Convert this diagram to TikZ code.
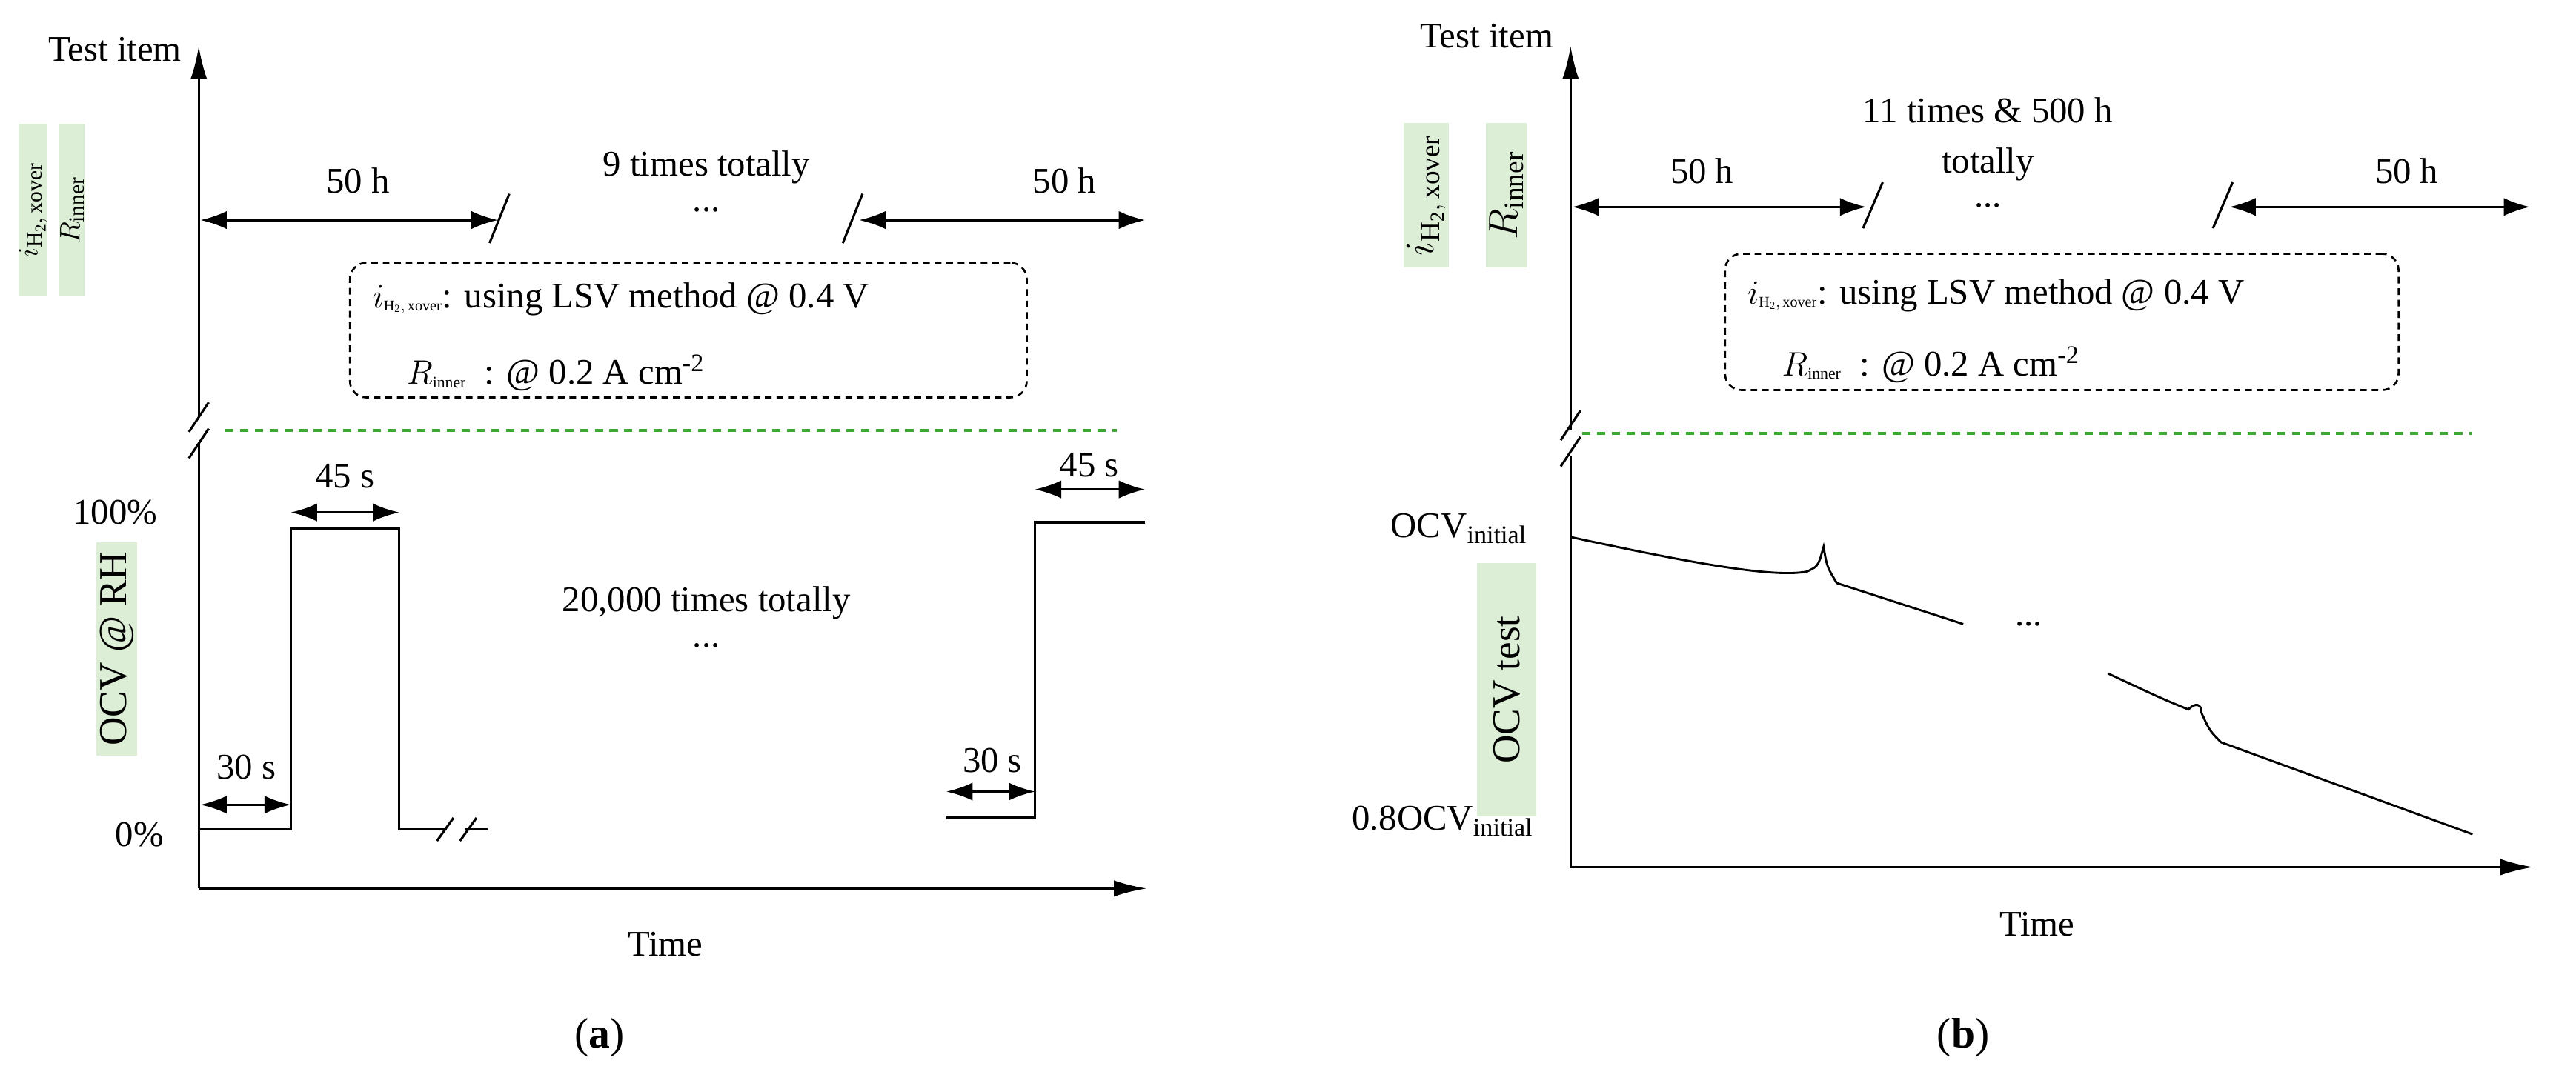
\documentclass[tikz,border=0pt]{standalone}
\usepackage{fontspec}
\setmainfont{Liberation Serif}
\usetikzlibrary{arrows.meta}
\definecolor{gbox}{RGB}{220,238,214}
\definecolor{gdash}{RGB}{60,170,50}
\begin{document}
\begin{tikzpicture}[x=1pt,y=-1pt,line width=1.4pt,
  txt/.style={font=\fontsize{22}{26}\selectfont,inner sep=1pt},
  gtxt/.style={txt,font=\fontsize{24}{26}\selectfont,fill=gbox,rotate=90,inner sep=2pt},
  axis/.style={-{Latex[length=20pt,width=10pt]}},
  dim/.style={{Latex[length=16pt,width=11pt]}-{Latex[length=16pt,width=11pt]}},
  gl/.style={gdash,dash pattern=on 5pt off 4pt,line width=1.6pt},
  box/.style={draw,dash pattern=on 4pt off 3pt,rounded corners=10pt,line width=1.2pt}]
\useasboundingbox (0,0) rectangle (1568,663);
% ===== panel a =====
\coordinate (aO) at (121,541);
\coordinate (aT) at (121,28);
\coordinate (aX) at (698,541);
\draw (aO) -- (121,270);
\draw[axis] (121,254) -- (aT);
\draw (115,279) -- (127,261); \draw (115,263) -- (127,245);
\draw[axis] (aO) -- (aX);
\node[txt] (ta) at (70,30) {Test item};
\node[gtxt,font=\fontsize{19}{20}\selectfont,inner sep=0.5pt,minimum width=105pt] (ia) at (20,128) {$i_{\mathrm{H_2,\,xover}}$};
\node[gtxt,font=\fontsize{19}{20}\selectfont,inner sep=0.5pt,minimum width=105pt] (ra) at (44,128) {$R_{\mathrm{inner}}$};
\coordinate (a1) at (122,134); \coordinate (a2) at (303,134);
\draw[dim] (a1) -- (a2); \draw (298,148) -- (310,118);
\node[txt] at (218,110) {50 h};
\node[txt] at (430,102) {9 times totally};
\node[txt] at (430,128) {...};
\coordinate (a3) at (523,134); \coordinate (a4) at (697,134);
\draw[dim] (a3) -- (a4); \draw (513,148) -- (525,118);
\node[txt] at (648,110) {50 h};
\node[box,minimum width=412pt,minimum height=82pt] (da) at (419,201) {};
\node[txt,anchor=west] at (225,182) {$i$\fontsize{13}{14}\selectfont$_{\mathrm{H_2,\,xover}}$\fontsize{22}{26}\selectfont: using LSV method @ 0.4 V};
\node[txt,anchor=west] at (246,227) {$R$\fontsize{14}{14}\selectfont$_{\mathrm{inner}}$\fontsize{22}{26}\selectfont\ \ : @ 0.2 A cm\textsuperscript{-2}};
\draw[gl] (137,262) -- (680,262);
\draw (121,505) -- (177,505) -- (177,322) -- (243,322) -- (243,505) -- (272,505);
\draw (266,512) -- (276,498); \draw (280,512) -- (290,498); \draw (283,505) -- (297,505);
\draw (576,498) -- (630,498) -- (630,318) -- (697,318);
\coordinate (s1) at (122,490); \coordinate (s2) at (177,490);
\draw[dim] (s1) -- (s2); \node[txt] at (150,467) {30 s};
\coordinate (s3) at (177,312); \coordinate (s4) at (243,312);
\draw[dim] (s3) -- (s4); \node[txt] at (210,290) {45 s};
\coordinate (s5) at (576,482); \coordinate (s6) at (630,482);
\draw[dim] (s5) -- (s6); \node[txt] at (604,463) {30 s};
\coordinate (s7) at (630,298); \coordinate (s8) at (697,298);
\draw[dim] (s7) -- (s8); \node[txt] at (663,283) {45 s};
\node[txt] at (70,312) {100\%};
\node[txt] at (85,508) {0\%};
\node[gtxt,minimum width=130pt,minimum height=24pt] at (71,395) {OCV @ RH};
\node[txt] at (430,367) {20,000 times totally};
\node[txt] at (430,393) {...};
\node[txt] at (405,575) {Time};
\node[txt,font=\fontsize{26}{30}\selectfont] at (365,632) {(\textbf{a})};
% ===== panel b =====
\coordinate (bO) at (956,528);
\coordinate (bT) at (956,28);
\coordinate (bX) at (1542,528);
\draw (bO) -- (956,278);
\draw[axis] (956,262) -- (bT);
\draw (950,284) -- (962,266); \draw (950,268) -- (962,250);
\draw[axis] (bO) -- (bX);
\node[txt] (tb) at (905,22) {Test item};
\node[gtxt,minimum width=88pt,minimum height=22pt] at (868,119) {$i_{\mathrm{H_2,\,xover}}$};
\node[gtxt,minimum width=88pt,minimum height=22pt] at (917,119) {$R_{\mathrm{inner}}$};
\node[txt] at (1210,67) {11 times \& 500 h};
\node[txt] at (1210,100) {totally};
\node[txt] at (1210,125) {...};
\coordinate (b1) at (957,126); \coordinate (b2) at (1136,126);
\draw[dim] (b1) -- (b2); \draw (1134,139) -- (1146,111);
\node[txt] at (1036,104) {50 h};
\coordinate (b3) at (1357,126); \coordinate (b4) at (1540,126);
\draw[dim] (b3) -- (b4); \draw (1347,139) -- (1359,111);
\node[txt] at (1465,104) {50 h};
\node[box,minimum width=410pt,minimum height=83pt] at (1255,196) {};
\node[txt,anchor=west] at (1062,180) {$i$\fontsize{13}{14}\selectfont$_{\mathrm{H_2,\,xover}}$\fontsize{22}{26}\selectfont: using LSV method @ 0.4 V};
\node[txt,anchor=west] at (1083,222) {$R$\fontsize{14}{14}\selectfont$_{\mathrm{inner}}$\fontsize{22}{26}\selectfont\ \ : @ 0.2 A cm\textsuperscript{-2}};
\draw[gl] (963,264) -- (1505,264);
\node[txt] at (888,322) {OCV\textsubscript{initial}};
\node[txt] at (878,500) {0.8OCV\textsubscript{initial}};
\node[gtxt,minimum width=154pt,minimum height=36pt] at (917,420) {OCV test};
\draw[line width=1.3pt] (956,327) .. controls (1030,343) and (1080,352) .. (1100,348)
  .. controls (1106,345) .. (1108,340) -- (1110,333) .. controls (1112,345) .. (1118,355)
  -- (1195,380);
\node[txt] at (1235,380) {...};
\draw[line width=1.3pt] (1283,410) .. controls (1315,425) .. (1332,432) .. controls (1336,428) and (1340,428) .. (1340,434)
  .. controls (1345,445) .. (1352,452) -- (1505,508);
\node[txt] at (1240,563) {Time};
\node[txt,font=\fontsize{26}{30}\selectfont] at (1195,632) {(\textbf{b})};
\end{tikzpicture}
\end{document}
